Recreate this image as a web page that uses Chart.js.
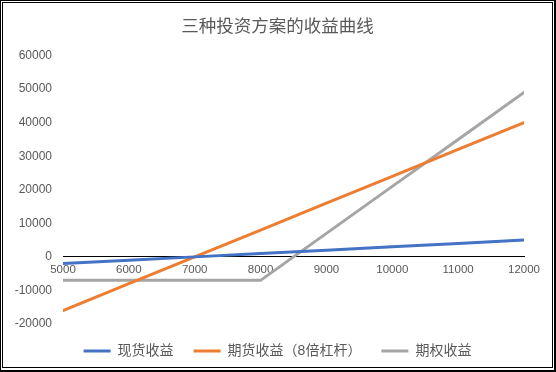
<!DOCTYPE html>
<html>
<head>
<meta charset="utf-8">
<script src="https://cdn.jsdelivr.net/npm/chart.js@4"></script>
<style>
  body { margin: 0; background: #fff; }
  .outer {
    position: absolute; left: 0; top: 0; width: 556px; height: 372px;
    box-sizing: border-box;
    border-left: 1px solid #000; border-top: 1px solid #000;
    border-right: 2px solid #000; border-bottom: 2px solid #000;
  }
  .inner {
    position: absolute; left: 1px; top: 1px; width: 551px; height: 366px;
    box-sizing: border-box; border: 1px solid #000;
  }
  canvas { display: block; }
</style>
</head>
<body>
<div class="outer"><div class="inner"><canvas id="c" width="549" height="364"></canvas></div></div>
<script>
const prices = [5000, 6000, 7000, 8000, 9000, 10000, 11000, 12000];
const spotProfit = [-2000, -1000, 0, 1000, 2000, 3000, 4000, 5000];
const futuresProfit = [-16000, -8000, 0, 8000, 16000, 24000, 32000, 40000];
const optionProfit = [-7000, -7000, -7000, -7000, 7000, 21000, 35000, 49000];
const seriesNames = ['现货收益', '期货收益（8倍杠杆）', '期权收益'];

const FONT = "'Liberation Sans', 'Noto Sans CJK SC', sans-serif";
const TEXT = '#595959';

const pts = arr => arr.map((v, i) => ({ x: prices[i], y: v }));

const ctx = document.getElementById('c').getContext('2d');
const chart = new Chart(ctx, {
    type: 'line',
    data: {
        datasets: [
            { label: seriesNames[0], data: pts(spotProfit), borderColor: '#4472C4', backgroundColor: '#4472C4', borderWidth: 3 },
            { label: seriesNames[1], data: pts(futuresProfit), borderColor: '#ED7D31', backgroundColor: '#ED7D31', borderWidth: 3 },
            { label: seriesNames[2], data: pts(optionProfit), borderColor: '#A5A5A5', backgroundColor: '#A5A5A5', borderWidth: 3 }
        ]
    },
    options: {
        responsive: false,
        animation: false,
        elements: { point: { radius: 0 }, line: { tension: 0, borderCapStyle: 'round' } },
        layout: { padding: { left: 0, right: 0, top: 0, bottom: -1 } },
        plugins: {
            title: {
                display: true,
                text: '三种投资方案的收益曲线',
                color: TEXT,
                font: { family: FONT, size: 17.5, weight: 'normal' },
                padding: { top: 14, bottom: 17.5 }
            },
            legend: {
                position: 'bottom',
                labels: {
                    color: TEXT,
                    font: { family: FONT, size: 14 },
                    boxWidth: 27,
                    boxHeight: 3,
                    padding: 20,
                    // draw the legend keys as flat bars, without the dataset border
                    generateLabels: c => Chart.defaults.plugins.legend.labels.generateLabels(c)
                        .map(l => ({ ...l, lineWidth: 0 }))
                }
            },
            tooltip: { enabled: false }
        },
        scales: {
            x: {
                type: 'linear',
                position: { y: 0 },
                min: 5000,
                max: 12000,
                grid: { display: false, drawTicks: false },
                border: { display: true, color: '#000', width: 1 },
                ticks: {
                    stepSize: 1000,
                    color: TEXT,
                    font: { family: FONT, size: 11.5 },
                    padding: 6,
                    maxRotation: 0,
                    callback: v => String(v)
                }
            },
            y: {
                min: -20000,
                max: 60000,
                grid: { display: false, drawTicks: false },
                border: { display: false },
                ticks: {
                    stepSize: 10000,
                    color: TEXT,
                    font: { family: FONT, size: 12 },
                    padding: 11,
                    callback: v => String(v)
                },
                afterFit: s => { s.width = 60; }
            },
            // empty right-hand axis: only reserves the white margin on the right
            yRight: {
                position: 'right',
                grid: { display: false, drawTicks: false },
                border: { display: false },
                ticks: { display: false },
                afterFit: s => { s.width = 28; }
            }
        }
    }
});
</script>
</body>
</html>
